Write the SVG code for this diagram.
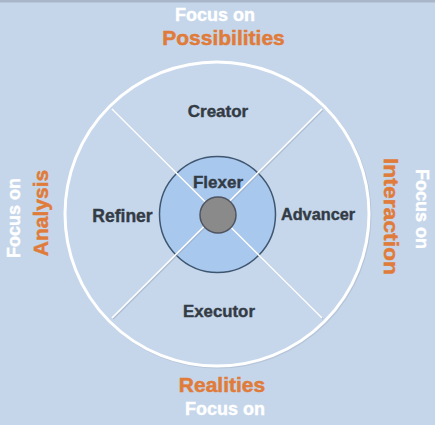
<svg xmlns="http://www.w3.org/2000/svg" width="435" height="425" viewBox="0 0 435 425">
<style>
.lbl{font-family:"Liberation Sans",Arial,sans-serif;font-weight:bold;fill:#333b45;stroke:#333b45;stroke-width:0.4;text-anchor:middle}
.wh{font-family:"Liberation Sans",Arial,sans-serif;font-weight:bold;fill:#ffffff;stroke:#ffffff;stroke-width:0.4;font-size:18px;text-anchor:middle}
.or{font-family:"Liberation Sans",Arial,sans-serif;font-weight:bold;fill:#e07b39;stroke:#e07b39;stroke-width:0.5;font-size:21px;text-anchor:middle}
.div{stroke:#ffffff;stroke-width:1.6}
.divs{stroke:#9aa8bb;stroke-width:1.6;opacity:0.5}
</style>
<rect x="0" y="0" width="435" height="425" fill="#c5d6ea"/>
<rect x="0" y="0" width="435" height="2.5" fill="#a9b5c8"/>
<g id="outer">
<circle cx="218" cy="215" r="152" fill="none" stroke="#a7b3c5" stroke-width="3" opacity="0.5"/>
<circle cx="217" cy="214" r="152" fill="#c6d7eb" stroke="#ffffff" stroke-width="3"/>
</g>
<g id="ring">
<circle cx="217.5" cy="214.5" r="58" fill="#a9c8ee" stroke="#3f5670" stroke-width="1.5"/>
</g>
<g id="connectors">
<line class="divs" x1="113" y1="110" x2="323" y2="319"/>
<line class="divs" x1="323" y1="110" x2="113" y2="319"/>
<line class="div" x1="112" y1="109" x2="322" y2="318"/>
<line class="div" x1="322" y1="109" x2="112" y2="318"/>
</g>
<g id="core">
<circle cx="218" cy="215" r="18" fill="#8a8a8a" stroke="#4f5560" stroke-width="1.5"/>
</g>
<g id="creator"><text class="lbl" x="218" y="117" font-size="17">Creator</text></g>
<g id="refiner"><text class="lbl" x="122.5" y="222" font-size="17.5">Refiner</text></g>
<g id="advancer"><text class="lbl" x="318" y="220" font-size="16.3">Advancer</text></g>
<g id="executor"><text class="lbl" x="219" y="317" font-size="16.8">Executor</text></g>
<g id="flexer"><text class="lbl" x="218" y="188" font-size="17">Flexer</text></g>
<g id="top">
<text class="wh" x="215" y="21">Focus on</text>
<text class="or" x="223.5" y="45">Possibilities</text>
</g>
<g id="bottom">
<text class="or" x="222" y="392">Realities</text>
<text class="wh" x="225" y="415">Focus on</text>
</g>
<g id="left">
<text class="wh" transform="translate(20,218) rotate(-90)">Focus on</text>
<text class="or" font-size="20" transform="translate(48,213) rotate(-90)">Analysis</text>
</g>
<g id="right">
<text class="or" textLength="117" lengthAdjust="spacingAndGlyphs" transform="translate(384,216.5) rotate(90)">Interaction</text>
<text class="wh" transform="translate(416,209) rotate(90)">Focus on</text>
</g>
</svg>
